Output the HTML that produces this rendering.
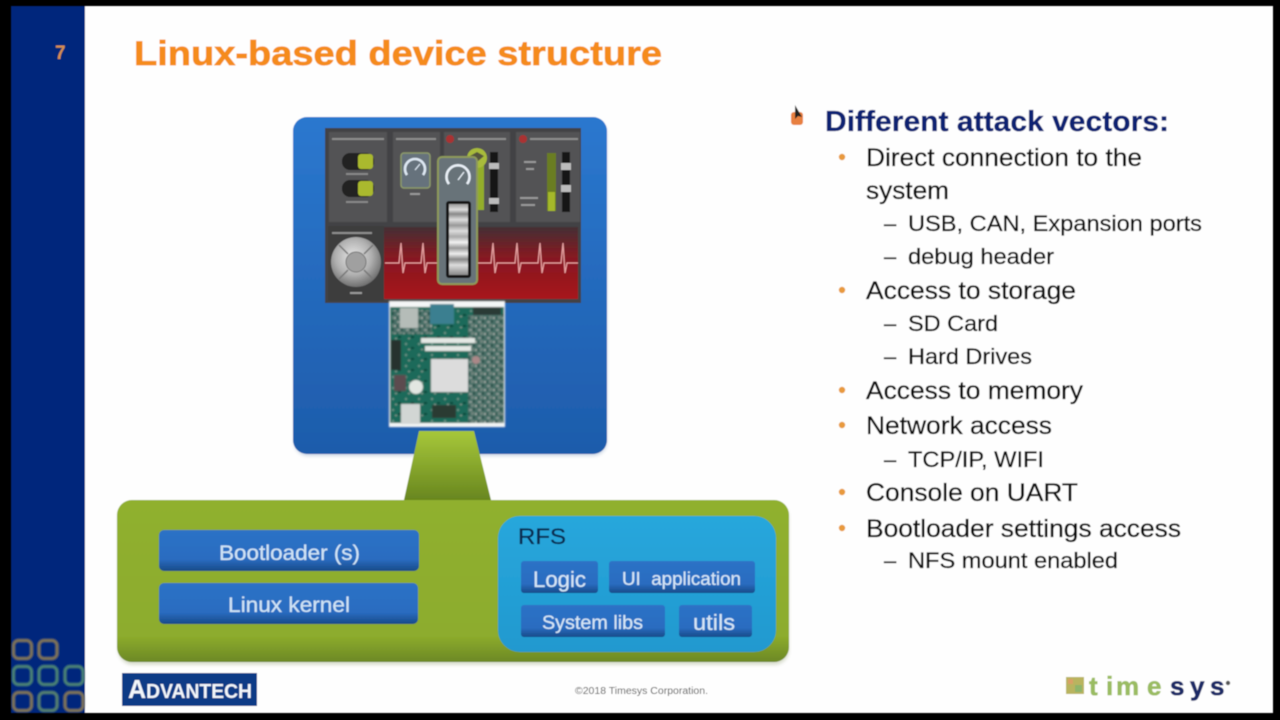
<!DOCTYPE html>
<html lang="en">
<head>
<meta charset="utf-8">
<title>Linux-based device structure</title>
<style>
html,body{margin:0;padding:0;width:1280px;height:720px;overflow:hidden;background:#000}
svg{display:block;position:absolute;left:0;top:0}
text{font-family:"Liberation Sans",Arial,sans-serif}
</style>
</head>
<body>
<svg width="1280" height="720" viewBox="0 0 1280 720" xmlns="http://www.w3.org/2000/svg">
<defs>
<linearGradient id="blueP" x1="0" y1="0" x2="0" y2="1"><stop offset="0" stop-color="#2b78cf"/><stop offset="1" stop-color="#1e5cab"/></linearGradient>
<linearGradient id="green" x1="0" y1="0" x2="0" y2="1"><stop offset="0" stop-color="#90b02e"/><stop offset=".84" stop-color="#8dac2d"/><stop offset="1" stop-color="#6c8825"/></linearGradient>
<linearGradient id="neck" x1="0" y1="0" x2="0" y2="1"><stop offset="0" stop-color="#a7c83a"/><stop offset="1" stop-color="#68861f"/></linearGradient>
<linearGradient id="btn" x1="0" y1="0" x2="0" y2="1"><stop offset="0" stop-color="#2d72c6"/><stop offset=".72" stop-color="#2a6cc0"/><stop offset="1" stop-color="#174a88"/></linearGradient>
<linearGradient id="rfs" x1="0" y1="0" x2="0" y2="1"><stop offset="0" stop-color="#27a7dc"/><stop offset="1" stop-color="#2299cf"/></linearGradient>
<linearGradient id="red" x1="0" y1="0" x2="0" y2="1"><stop offset="0" stop-color="#443034"/><stop offset=".4" stop-color="#841a22"/><stop offset="1" stop-color="#a8121c"/></linearGradient>
<linearGradient id="wheel" x1="0" y1="0" x2="0" y2="1">
<stop offset="0" stop-color="#999"/><stop offset=".08" stop-color="#ddd"/><stop offset=".14" stop-color="#888"/><stop offset=".22" stop-color="#ddd"/><stop offset=".3" stop-color="#999"/><stop offset=".38" stop-color="#ddd"/><stop offset=".46" stop-color="#aaa"/><stop offset=".54" stop-color="#f2f2f2"/><stop offset=".62" stop-color="#999"/><stop offset=".7" stop-color="#eee"/><stop offset=".78" stop-color="#888"/><stop offset=".86" stop-color="#ddd"/><stop offset="1" stop-color="#888"/></linearGradient>
<radialGradient id="knob" cx=".45" cy=".4" r=".6"><stop offset="0" stop-color="#e8e8e8"/><stop offset=".6" stop-color="#b0b0b0"/><stop offset="1" stop-color="#707070"/></radialGradient>
<pattern id="speck" width="9" height="8" patternUnits="userSpaceOnUse">
<rect width="9" height="8" fill="#4a7068"/>
<rect x="1" y="1" width="3" height="2" fill="#8c9a94"/>
<rect x="5" y="0" width="2" height="3" fill="#2a4f46"/>
<rect x="3" y="4" width="3" height="3" fill="#6f837b"/>
<rect x="7" y="5" width="2" height="2" fill="#a0aaa4"/>
<rect x="0" y="5" width="2" height="2" fill="#2c5048"/>
</pattern>
<pattern id="speck2" width="13" height="11" patternUnits="userSpaceOnUse">
<rect width="13" height="11" fill="#1f6a5a"/>
<rect x="2" y="2" width="2" height="2" fill="#6f9589"/>
<rect x="8" y="6" width="3" height="2" fill="#113f36"/>
<rect x="5" y="8" width="2" height="1" fill="#95a89f"/>
</pattern>
<filter id="all" filterUnits="userSpaceOnUse" x="0" y="0" width="1280" height="720"><feGaussianBlur stdDeviation="0.45"/></filter>
<filter id="b1" x="-10%" y="-10%" width="120%" height="120%"><feGaussianBlur stdDeviation="0.7"/></filter>
<filter id="b3" x="-10%" y="-10%" width="120%" height="120%"><feGaussianBlur stdDeviation="0.9"/></filter>
<filter id="sh" x="-5%" y="-5%" width="110%" height="115%"><feGaussianBlur stdDeviation="1.5"/></filter>
</defs>

<g filter="url(#all)">
<!-- slide -->
<rect x="85" y="6" width="1188" height="707" fill="#fefefe"/>
<rect x="11" y="6" width="74" height="707" fill="#03287c"/>
<text x="55" y="59" font-size="19" font-weight="700" fill="#d58f50">7</text>

<!-- sidebar squares -->
<g fill="none" stroke-width="3.2" filter="url(#b1)">
<rect x="13.5" y="640.5" width="18" height="18" rx="5" stroke="#7f7358"/>
<rect x="39" y="640.5" width="18" height="18" rx="5" stroke="#7f7358"/>
<rect x="13.5" y="666.5" width="18" height="18" rx="5" stroke="#4a8274"/>
<rect x="39" y="666.5" width="18" height="18" rx="5" stroke="#4a8274"/>
<rect x="65" y="666.5" width="18" height="18" rx="5" stroke="#4a8274"/>
<rect x="13.5" y="692.5" width="18" height="18" rx="5" stroke="#7f7358"/>
<rect x="39" y="692.5" width="18" height="18" rx="5" stroke="#55806f"/>
<rect x="65" y="692.5" width="18" height="18" rx="5" stroke="#7f7358"/>
</g>

<!-- title -->
<text x="134" y="65" font-size="34" font-weight="700" fill="#f58b1f" stroke="#f58b1f" stroke-width=".7" textLength="528" lengthAdjust="spacingAndGlyphs">Linux-based device structure</text>

<!-- device panel -->
<rect x="294" y="120" width="313" height="336" rx="14" fill="#9bb0cc" opacity=".5" filter="url(#sh)"/>
<rect x="293" y="117" width="314" height="337" rx="14" fill="url(#blueP)"/>

<!-- UI screenshot -->
<rect x="325" y="128" width="256" height="175" fill="#434345"/>
<rect x="329" y="132" width="58" height="90" fill="#525254"/>
<rect x="393" y="132" width="47" height="90" fill="#525254"/>
<rect x="444" y="132" width="66" height="90" fill="#525254"/>
<rect x="516" y="132" width="64" height="90" fill="#525254"/>
<rect x="328" y="226" width="56" height="75" fill="#3c3c3e"/>
<rect x="384" y="227" width="194" height="72" fill="url(#red)"/>
<g fill="#8e8e8e">
<rect x="332" y="138" width="52" height="2"/>
<rect x="396" y="138" width="40" height="2"/>
<rect x="458" y="138" width="48" height="2"/>
<rect x="530" y="138" width="48" height="2"/>
<rect x="332" y="232" width="40" height="2"/>
</g>
<circle cx="450" cy="139" r="4" fill="#a33"/>
<circle cx="523" cy="139" r="4" fill="#a33"/>
<!-- toggles -->
<rect x="342" y="153" width="32" height="17" rx="8" fill="#232323"/>
<rect x="358" y="154" width="15" height="15" rx="3" fill="#aab92e"/>
<rect x="342" y="180" width="32" height="17" rx="8" fill="#232323"/>
<rect x="358" y="181" width="15" height="15" rx="3" fill="#aab92e"/>
<rect x="346" y="173" width="22" height="2" fill="#888"/>
<rect x="346" y="201" width="22" height="2" fill="#888"/>
<!-- gauge 1 -->
<rect x="401" y="153" width="29" height="35" rx="3" fill="#66727c" stroke="#8c9a6a" stroke-width="1.5"/>
<path d="M407 175a10 10 0 1 1 16 0" fill="none" stroke="#dde7f2" stroke-width="2.6"/>
<path d="M415 170l5-6" stroke="#dde7f2" stroke-width="1.2"/>
<rect x="410" y="193" width="10" height="2" fill="#999"/>
<!-- sliders -->
<rect x="490" y="152" width="8" height="60" fill="#141414"/>
<rect x="489" y="163" width="10" height="6" fill="#bbb"/>
<rect x="489" y="198" width="10" height="6" fill="#bbb"/>
<rect x="477" y="165" width="7" height="45" fill="#93ad2c"/>
<circle cx="477" cy="158" r="10" fill="#a8bb3a"/>
<path d="M470 156l7-4 7 4-7 6Z" fill="#55553e"/>
<rect x="547" y="153" width="9" height="58" fill="#6a7d20"/>
<rect x="548" y="192" width="7" height="19" fill="#a5b82c"/>
<rect x="562" y="152" width="8" height="60" fill="#141414"/>
<rect x="561" y="163" width="10" height="7" fill="#bbb"/>
<rect x="561" y="185" width="10" height="7" fill="#bbb"/>
<rect x="524" y="161" width="12" height="2" fill="#999"/>
<rect x="526" y="168" width="8" height="2" fill="#999"/>
<rect x="520" y="197" width="18" height="2" fill="#999"/>
<rect x="521" y="204" width="14" height="2" fill="#999"/>
<!-- knob -->
<circle cx="356" cy="262" r="25" fill="url(#knob)"/>
<circle cx="356" cy="262" r="10" fill="#a0a0a0" stroke="#777"/>
<path d="M339 245l9 9M373 245l-9 9M339 279l9-9M373 279l-9-9" stroke="#777" stroke-width="1.5"/>
<rect x="350" y="292" width="12" height="2" fill="#999"/>
<!-- ECG -->
<path d="M385 263H399l2-20 2 30 2-10H421l2-20 2 30 2-10H437M478 263H491l2-20 2 30 2-10H515l2-20 2 30 2-10H538l2-20 2 30 2-10H561l2-20 2 30 2-10H578" fill="none" stroke="#e8a2a2" stroke-width="1.2"/>
<!-- popup -->
<rect x="438" y="157" width="39" height="127" rx="4" fill="#687379" stroke="#8e9a5a" stroke-width="2"/>
<path d="M449 184a11.5 11.5 0 1 1 18 0" fill="none" stroke="#e8eff6" stroke-width="2.6"/>
<path d="M458 180l6-8" stroke="#e8eff6" stroke-width="1.3"/>
<rect x="446" y="201" width="25" height="77" rx="3" fill="#151515"/>
<rect x="449" y="204" width="19" height="71" fill="url(#wheel)"/>

<!-- board -->
<g filter="url(#b3)">
<rect x="389" y="301" width="116" height="126" fill="#f4f6f6"/>
<rect x="390" y="307" width="114" height="116" fill="url(#speck2)"/>
<rect x="468" y="315" width="35" height="108" fill="url(#speck)"/>
<rect x="392" y="310" width="40" height="24" fill="url(#speck)"/>
<rect x="430" y="304" width="24" height="20" fill="#3b7f90"/>
<rect x="400" y="308" width="18" height="20" fill="#b5bcb8"/>
<rect x="473" y="307" width="28" height="8" fill="#2a3a36"/>
<rect x="391" y="340" width="10" height="30" fill="#26332f"/>
<rect x="421" y="338" width="28" height="5" fill="#e4e8e4"/>
<rect x="445" y="338" width="30" height="5" fill="#e4e8e4"/>
<rect x="425" y="346" width="46" height="5" fill="#e4e8e4"/>
<rect x="431" y="359" width="37" height="33" fill="#dcdcdc"/>
<circle cx="416" cy="387" r="7" fill="#e2e6e2"/>
<rect x="401" y="404" width="19" height="20" fill="#d2d6d4"/>
<rect x="432" y="405" width="24" height="13" fill="#2a3a32"/>
<rect x="394" y="375" width="12" height="16" fill="#5c4c50"/>
<circle cx="476" cy="360" r="4" fill="#a88"/>
</g>

<!-- neck -->
<path d="M419 431H474L491 500H404Z" fill="url(#neck)"/>

<!-- base panel -->
<rect x="118" y="503" width="671" height="162" rx="15" fill="#b5bda0" opacity=".5" filter="url(#sh)"/>
<rect x="117" y="500" width="672" height="162" rx="15" fill="url(#green)"/>

<!-- left buttons -->
<rect x="159" y="530" width="260" height="41" rx="5" fill="url(#btn)"/>
<rect x="159" y="583" width="259" height="41" rx="5" fill="url(#btn)"/>
<g fill="#cfe3f5" stroke="#cfe3f5" stroke-width=".25" font-size="21">
<text x="219" y="560" textLength="141" lengthAdjust="spacingAndGlyphs">Bootloader (s)</text>
<text x="228" y="612" textLength="122" lengthAdjust="spacingAndGlyphs">Linux kernel</text>
</g>

<!-- RFS -->
<rect x="498" y="516" width="278" height="136" rx="22" fill="url(#rfs)"/>
<text x="518" y="544" font-size="22" fill="#0a2a50" stroke="#0a2a50" stroke-width=".3" textLength="48" lengthAdjust="spacingAndGlyphs">RFS</text>
<rect x="521" y="561" width="77" height="32" rx="3" fill="url(#btn)"/>
<rect x="609" y="561" width="146" height="32" rx="3" fill="url(#btn)"/>
<rect x="521" y="605" width="144" height="32" rx="3" fill="url(#btn)"/>
<rect x="679" y="605" width="73" height="32" rx="3" fill="url(#btn)"/>
<g fill="#d5e6f6" stroke="#d5e6f6" stroke-width=".2">
<text x="533" y="587" font-size="22" textLength="53" lengthAdjust="spacingAndGlyphs">Logic</text>
<text x="622" y="585" font-size="18" textLength="119" lengthAdjust="spacingAndGlyphs" xml:space="preserve">UI  application</text>
<text x="542" y="629" font-size="19" textLength="101" lengthAdjust="spacingAndGlyphs">System libs</text>
<text x="693" y="630" font-size="22" textLength="42" lengthAdjust="spacingAndGlyphs">utils</text>
</g>

<!-- cursor + main bullet -->
<rect x="791" y="112" width="12" height="13" rx="3" fill="#e8803f"/>
<path d="M795 105l0 14 3-3 4 1Z" fill="#222"/>

<!-- right text -->
<text x="825" y="131" font-size="29" font-weight="700" fill="#0e2272" stroke="#0e2272" stroke-width=".3" textLength="344" lengthAdjust="spacingAndGlyphs">Different attack vectors:</text>
<g fill="#e89a3c">
<circle cx="842" cy="157" r="3.2"/>
<circle cx="842" cy="290" r="3.2"/>
<circle cx="842" cy="390" r="3.2"/>
<circle cx="842" cy="425" r="3.2"/>
<circle cx="842" cy="492" r="3.2"/>
<circle cx="842" cy="528" r="3.2"/>
</g>
<g fill="#0c0c0c" stroke="#0c0c0c" stroke-width=".3" font-size="25">
<text x="866" y="166" textLength="276" lengthAdjust="spacingAndGlyphs">Direct connection to the</text>
<text x="866" y="199" textLength="83" lengthAdjust="spacingAndGlyphs">system</text>
<text x="866" y="299" textLength="210" lengthAdjust="spacingAndGlyphs">Access to storage</text>
<text x="866" y="399" textLength="217" lengthAdjust="spacingAndGlyphs">Access to memory</text>
<text x="866" y="434" textLength="186" lengthAdjust="spacingAndGlyphs">Network access</text>
<text x="866" y="501" textLength="212" lengthAdjust="spacingAndGlyphs">Console on UART</text>
<text x="866" y="537" textLength="315" lengthAdjust="spacingAndGlyphs">Bootloader settings access</text>
</g>
<g fill="#0c0c0c" stroke="#0c0c0c" stroke-width=".3" font-size="22">
<text x="884" y="231">–</text>
<text x="908" y="231" textLength="294" lengthAdjust="spacingAndGlyphs">USB, CAN, Expansion ports</text>
<text x="884" y="264">–</text>
<text x="908" y="264" textLength="146" lengthAdjust="spacingAndGlyphs">debug header</text>
<text x="884" y="331">–</text>
<text x="908" y="331" textLength="90" lengthAdjust="spacingAndGlyphs">SD Card</text>
<text x="884" y="364">–</text>
<text x="908" y="364" textLength="124" lengthAdjust="spacingAndGlyphs">Hard Drives</text>
<text x="884" y="467">–</text>
<text x="908" y="467" textLength="136" lengthAdjust="spacingAndGlyphs">TCP/IP, WIFI</text>
<text x="884" y="568">–</text>
<text x="908" y="568" textLength="210" lengthAdjust="spacingAndGlyphs">NFS mount enabled</text>
</g>

<!-- footer -->
<rect x="122" y="673" width="135" height="33" fill="#0a3a86"/>
<text x="128" y="698" font-weight="700" fill="#f2f6fa" font-size="20" textLength="124" lengthAdjust="spacingAndGlyphs"><tspan font-size="26">A</tspan>DVANTECH</text>
<text x="575" y="694" font-size="10" fill="#555" textLength="133" lengthAdjust="spacingAndGlyphs">©2018 Timesys Corporation.</text>

<!-- timesys logo -->
<rect x="1066" y="677" width="18" height="17" fill="#b9b45e"/>
<rect x="1068" y="679" width="5" height="5" fill="#d9a066"/>
<rect x="1075" y="685" width="7" height="7" fill="#8fb56a"/>
<g font-size="26" font-weight="700" stroke-width=".6">
<text y="695" fill="#9abc62" stroke="#9abc62" x="1089 1106 1116 1147">time</text>
<text y="695" fill="#1c2a66" stroke="#1c2a66" x="1170 1190 1210">sys</text>
</g>
<circle cx="1228" cy="683" r="2.2" fill="#555"/>
</g>
</svg>
</body>
</html>
